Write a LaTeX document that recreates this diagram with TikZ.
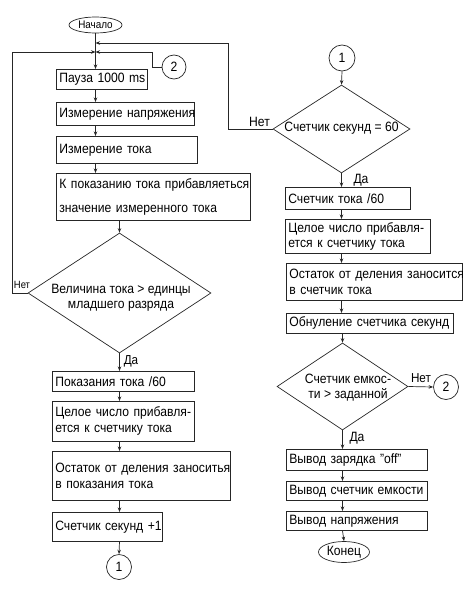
\documentclass[tikz,border=0pt]{standalone}
\usepackage{fontspec}
\setmainfont[FakeStretch=0.9]{Liberation Sans}
\usetikzlibrary{shapes.geometric,arrows.meta}
\newcommand{\nbl}[1]{\mbox{#1}}
\tikzset{
  ln/.style={draw=black!85, line width=0.7pt},
  arr/.style={ln, -{Stealth[length=4.5pt,width=3.5pt]}},
  box/.style={ln, anchor=north west, inner xsep=3pt, inner ysep=0pt, align=left,
    font=\fontsize{13.5}{16}\selectfont},
  dia/.style={ln, diamond, inner sep=0pt},
  dtext/.style={align=center, inner sep=0pt, font=\fontsize{13.5}{15}\selectfont},
  conn/.style={ln, circle, inner sep=0pt, font=\fontsize{13.5}{16}\selectfont},
  term/.style={ln, ellipse, inner sep=0pt},
  lbl/.style={inner sep=0pt, font=\fontsize{13}{15}\selectfont},
  slbl/.style={inner sep=0pt, font=\fontsize{10.5}{12}\selectfont}
}
\begin{document}
\begin{tikzpicture}[x=1pt,y=-1pt]
\useasboundingbox (0,0) rectangle (474,594);
% left column
\node[term, minimum width=53pt, minimum height=16pt, font=\fontsize{11}{13}\selectfont] (start) at (95.5,25) {Начало};
\node[conn, minimum size=24pt] (c2a) at (174,67) {2};
\node[box, text width=85pt, minimum height=20pt] (pause) at (56,69) {\nbl{Пауза 1000 ms}};
\node[box, text width=132pt, minimum height=23pt] (mu) at (56,102) {\nbl{Измерение напряжения}};
\node[box, text width=135pt, minimum height=27pt] (mi) at (56,136) {\nbl{Измерение тока}};
\node[box, text width=188pt, minimum height=47pt, font=\fontsize{13.5}{24}\selectfont] (add) at (56,173) {\nbl{К показанию тока прибавляеться}\\\nbl{значение измеренного тока}};
\node[dia, minimum width=183pt, minimum height=120pt] (d1) at (119.5,293) {};
\node[dtext] (d1t) at (121,297.5) {Величина тока > единцы\\младшего разряда};
\node[box, text width=136pt, minimum height=20pt] (p60) at (52,371) {\nbl{Показания тока /60}};
\node[box, text width=136pt, minimum height=40pt] (cel) at (52,401) {\nbl{Целое число прибавля-}\\\nbl{ется к счетчику тока}};
\node[box, text width=172pt, minimum height=49pt] (ost) at (52,451) {\nbl{Остаток от деления заноситья}\\\nbl{в показания тока}};
\node[box, text width=104pt, minimum height=29pt] (sec) at (52,512) {\nbl{Счетчик секунд +1}};
\node[conn, minimum size=25pt] (c1a) at (119,567) {1};
% right column
\node[conn, minimum size=26pt] (c1b) at (342,58) {1};
\node[dia, minimum width=137pt, minimum height=88pt] (d2) at (341.5,129) {};
\node[dtext] (d2t) at (341.5,128.5) {Счетчик секунд = 60};
\node[box, text width=119pt, minimum height=22pt] (r1) at (285,187) {\nbl{Счетчик тока /60}};
\node[box, text width=139pt, minimum height=34pt, font=\fontsize{13.5}{15}\selectfont] (r2) at (285,219) {\nbl{Целое число прибавля-}\\\nbl{ется к счетчику тока}};
\node[box, text width=170pt, minimum height=37pt] (r3) at (286,263) {\nbl{Остаток от деления заносится}\\\nbl{в счетчик тока}};
\node[box, text width=161pt, minimum height=20pt] (r4) at (286,313) {\nbl{Обнуление счетчика секунд}};
\node[dia, minimum width=131pt, minimum height=87pt] (d3) at (342.5,386.5) {};
\node[dtext] (d3t) at (348,388) {Счетчик емкос-\\ти > заданной};
\node[conn, minimum size=25pt] (c2b) at (446,387) {2};
\node[box, text width=135pt, minimum height=21pt] (r5) at (286,449) {\nbl{Вывод зарядка "off"}};
\node[box, text width=135pt, minimum height=19pt] (r6) at (286,481) {\nbl{Вывод счетчик емкости}};
\node[box, text width=135pt, minimum height=19pt] (r7) at (286,511) {\nbl{Вывод напряжения}};
\node[term, minimum width=51pt, minimum height=21pt, font=\fontsize{13.5}{16}\selectfont] (end) at (344,552) {Конец};
% junction coordinates
\coordinate (j2) at (95.5,43);
\coordinate (j1) at (95.5,52);
\coordinate (lt) at (12,52);
\coordinate (rt) at (228,43);
\coordinate (ct) at (152,52);
% connectors left
\draw[arr] (start.south) -- (start.south |- pause.north);
\draw[arr] (d2.west) -| (rt) -- (j2);
\draw[arr] (d1.west) -| (lt) -- (j1);
\draw[arr] (c2a.west) -| (ct) -- (j1);
\draw[arr] (pause.south -| start) -- (mu.north -| start);
\draw[arr] (mu.south -| start) -- (mi.north -| start);
\draw[arr] (mi.south -| start) -- (add.north -| start);
\draw[arr] (add.south -| d1) -- (d1.north);
\draw[arr] (d1.south) -- (p60.north -| d1);
\draw[arr] (p60.south -| d1) -- (cel.north -| d1);
\draw[arr] (cel.south -| d1) -- (ost.north -| d1);
\draw[arr] (ost.south -| d1) -- (sec.north -| d1);
\draw[arr] (sec.south -| d1) -- (c1a.north);
% connectors right
\draw[arr] (c1b.south) -- (d2.north);
\draw[arr] (d2.south) -- (r1.north -| d2);
\draw[arr] (r1.south -| d2) -- (r2.north -| d2);
\draw[arr] (r2.south -| d2) -- (r3.north -| d2);
\draw[arr] (r3.south -| d2) -- (r4.north -| d2);
\draw[arr] (r4.south -| d3) -- (d3.north);
\draw[arr] (d3.east) -- (c2b.west);
\draw[arr] (d3.south) -- (r5.north -| d3);
\draw[arr] (r5.south -| d3) -- (r6.north -| d3);
\draw[arr] (r6.south -| d3) -- (r7.north -| d3);
\draw[arr] (r7.south -| d3) -- (end.north);
% labels
\node[slbl] (n1) at (22,285) {Нет};
\node[lbl] (y1) at (131,361) {Да};
\node[lbl, font=\fontsize{13.5}{15}\selectfont] (n2) at (259.5,122) {Нет};
\node[lbl, font=\fontsize{13.5}{15}\selectfont] (y2) at (361,180) {Да};
\node[lbl] (n3) at (421,378) {Нет};
\node[lbl, font=\fontsize{13.5}{15}\selectfont] (y3) at (357,438) {Да};
\end{tikzpicture}
\end{document}
